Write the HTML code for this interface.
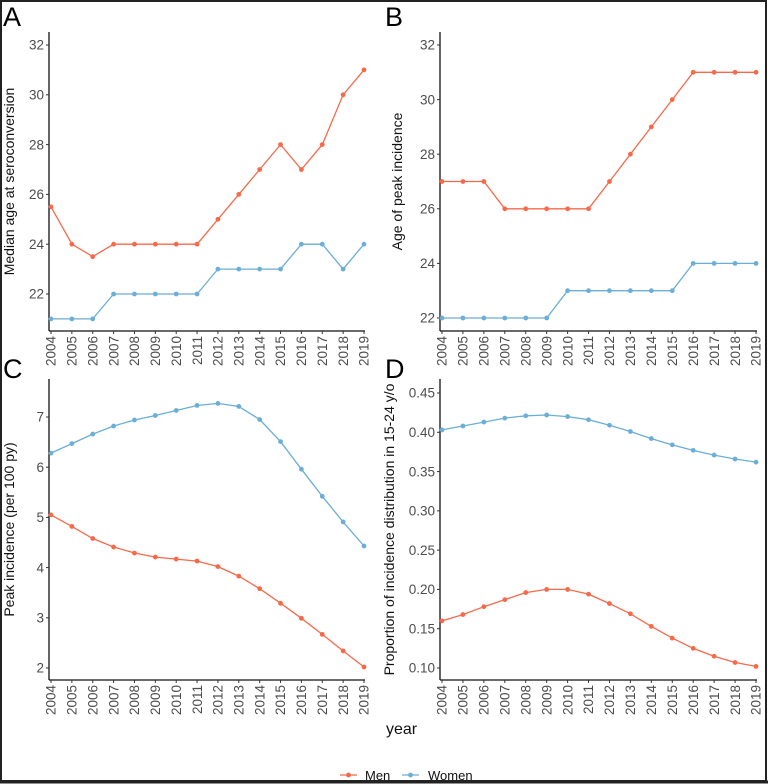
<!DOCTYPE html>
<html><head><meta charset="utf-8"><style>
html,body{margin:0;padding:0;background:#fff}
svg{display:block}
text{font-family:"Liberation Sans",Arial,sans-serif}
</style></head><body>
<svg id="s" width="768" height="784" viewBox="0 0 768 784" xmlns="http://www.w3.org/2000/svg">
<rect x="0" y="0" width="768" height="784" fill="#fff"/>
<rect x="1" y="1" width="765" height="780" fill="none" stroke="#222" stroke-width="2"/>
<line x1="0" y1="782" x2="768" y2="782" stroke="#222" stroke-width="3"/>
<text x="3" y="26" font-size="27">A</text>
<text x="385" y="26" font-size="27">B</text>
<text x="3" y="378" font-size="27">C</text>
<text x="385" y="378" font-size="27">D</text>
<text x="386" y="734" font-size="16" fill="#111">year</text>
<line x1="340" y1="775" x2="357" y2="775" stroke="#f8694a" stroke-width="1.3"/><circle cx="348.5" cy="775" r="2.4" fill="#f8694a"/>
<text x="365" y="780" font-size="13" fill="#111">Men</text>
<line x1="402" y1="775" x2="419" y2="775" stroke="#6baed6" stroke-width="1.3"/><circle cx="410.5" cy="775" r="2.4" fill="#6baed6"/>
<text x="428" y="780" font-size="13" fill="#111">Women</text>
<g id="g"></g>
</svg>
<script>
var g=document.getElementById('g'),h='';
var M='#f8694a',W='#6baed6';
function panel(o){
 var ax=o.ax,x0=o.x0,x1=o.x1,top=o.top,bot=o.bot;
 var X=function(i){return x0+(x1-x0)*i/15};
 var Y=function(v){return o.y0+(v-o.v0)*(o.y1-o.y0)/(o.v1-o.v0)};
 h+='<line x1="'+ax+'" y1="'+top+'" x2="'+ax+'" y2="'+bot+'" stroke="#111" stroke-width="1.3"/>';
 h+='<line x1="'+ax+'" y1="'+bot+'" x2="'+(x1+1)+'" y2="'+bot+'" stroke="#111" stroke-width="1.3"/>';
 o.ticks.forEach(function(t){var y=Y(t);
  h+='<line x1="'+(ax-3)+'" y1="'+y+'" x2="'+ax+'" y2="'+y+'" stroke="#333"/>';
  h+='<text x="'+(ax-5)+'" y="'+(y+4.7)+'" font-size="13.5" fill="#4d4d4d" text-anchor="end">'+(o.fmt?o.fmt(t):t)+'</text>';});
 for(var i=0;i<16;i++){var x=X(i);
  h+='<line x1="'+x+'" y1="'+bot+'" x2="'+x+'" y2="'+(bot+3)+'" stroke="#333"/>';
  h+='<text transform="translate('+(x+4.7)+','+(bot+5)+') rotate(-90)" font-size="13.5" fill="#4d4d4d" text-anchor="end">'+(2004+i)+'</text>';}
 [[o.w,W],[o.m,M]].forEach(function(s){var p=s[0].map(function(v,i){return X(i).toFixed(1)+','+Y(v).toFixed(1)}).join(' ');
  h+='<polyline points="'+p+'" fill="none" stroke="'+s[1]+'" stroke-width="1.3"/>';
  s[0].forEach(function(v,i){h+='<circle cx="'+X(i)+'" cy="'+Y(v)+'" r="2.4" fill="'+s[1]+'"/>';});});
 h+='<text transform="translate('+o.lx+','+((top+bot)/2)+') rotate(-90)" font-size="14" fill="#111" text-anchor="middle">'+o.label+'</text>';
}
panel({ax:49,x0:51,x1:364,top:32,bot:331,v0:32,y0:45,v1:22,y1:294,ticks:[22,24,26,28,30,32],lx:14,label:'Median age at seroconversion',
 m:[25.5,24,23.5,24,24,24,24,24,25,26,27,28,27,28,30,31],w:[21,21,21,22,22,22,22,22,23,23,23,23,24,24,23,24]});
panel({ax:440,x0:442,x1:756,top:32,bot:331,v0:32,y0:45,v1:22,y1:318,ticks:[22,24,26,28,30,32],lx:402,label:'Age of peak incidence',
 m:[27,27,27,26,26,26,26,26,27,28,29,30,31,31,31,31],w:[22,22,22,22,22,22,23,23,23,23,23,23,24,24,24,24]});
panel({ax:49,x0:51,x1:364,top:379,bot:680,v0:7,y0:417,v1:2,y1:668,ticks:[2,3,4,5,6,7],lx:14,label:'Peak incidence (per 100 py)',
 m:[5.05,4.82,4.58,4.41,4.29,4.21,4.17,4.13,4.02,3.83,3.58,3.29,2.99,2.67,2.34,2.02],w:[6.28,6.47,6.66,6.82,6.94,7.03,7.13,7.23,7.27,7.21,6.95,6.51,5.96,5.42,4.91,4.43]});
panel({ax:440,x0:442,x1:756,top:379,bot:680,v0:0.45,y0:393,v1:0.10,y1:668,ticks:[0.10,0.15,0.20,0.25,0.30,0.35,0.40,0.45],fmt:function(t){return t.toFixed(2)},lx:394,label:'Proportion of incidence distribution in 15-24 y/o',
 m:[.160,.168,.178,.187,.196,.200,.200,.194,.182,.169,.153,.138,.125,.115,.107,.102],w:[.403,.408,.413,.418,.421,.422,.420,.416,.409,.401,.392,.384,.377,.371,.366,.362]});
g.innerHTML=h;
</script>
</body></html>
